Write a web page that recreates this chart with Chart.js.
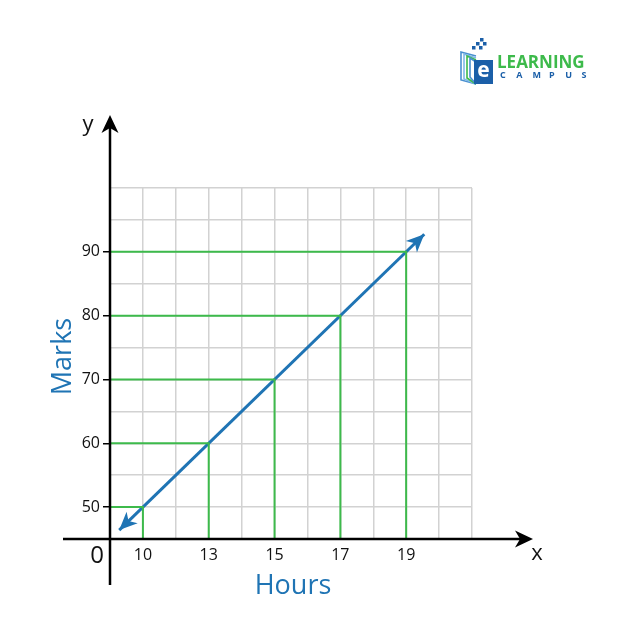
<!DOCTYPE html>
<html>
<head>
<meta charset="utf-8">
<script src="https://cdn.jsdelivr.net/npm/chart.js@4"></script>
<style>
  body { margin: 0; background: #fff; }
  #wrap { width: 640px; height: 631px; }
</style>
</head>
<body>
<div id="wrap"><canvas id="myChart" width="640" height="631"></canvas></div>
<script>
// data
const hourLabels = ['10', '13', '15', '17', '19'];
const marks = [50, 60, 70, 80, 90];
const markTicks = [50, 60, 70, 80, 90];

const blue = '#1f74b4';
const green = '#3dba4b';

// each hour sits on every second grid column (axis is not to scale)
function slotOf(i) { return i * 2 + 1; }

const points = marks.map((m, i) => ({ x: slotOf(i), y: m }));

// green guide lines from both axes to each point
const guideSets = points.map(p => ({
    data: [{ x: 0, y: p.y }, { x: p.x, y: p.y }, { x: p.x, y: 45 }],
    borderColor: green,
    borderWidth: 2,
    pointRadius: 0,
    fill: false
}));

// blue line, stretched a bit past first and last point
var first = points[0], last = points[points.length - 1];
var slope = (last.y - first.y) / (last.x - first.x);
var lineStart = { x: first.x - 0.72, y: first.y - 0.72 * slope };
var lineEnd = { x: last.x + 0.55, y: last.y + 0.55 * slope };

function arrowHead(ctx, x, y, ang, len, half, color) {
    ctx.save();
    ctx.translate(x, y);
    ctx.rotate(ang);
    ctx.fillStyle = color;
    ctx.beginPath();
    ctx.moveTo(0, 0);
    ctx.lineTo(-len, -half);
    ctx.lineTo(-len * 0.72, 0);
    ctx.lineTo(-len, half);
    ctx.closePath();
    ctx.fill();
    ctx.restore();
}

function drawLogo(ctx) {
    ctx.save();
    // pixel dots
    ctx.fillStyle = '#1b5fa8';
    [[480, 38], [476, 42], [483, 42], [472, 46], [479, 46]].forEach(function (s) {
        ctx.fillRect(s[0], s[1], 3.5, 3.5);
    });
    // book pages
    var cols = ['#4a90d0', '#7fb8e6', green, '#4a90d0'];
    ctx.lineWidth = 1.6;
    for (var k = 0; k < 4; k++) {
        ctx.strokeStyle = cols[k];
        ctx.beginPath();
        ctx.moveTo(476, 56 + k * 2);
        ctx.lineTo(461 + k * 3, 52 + k * 2);
        ctx.lineTo(461 + k * 3, 80 - k);
        ctx.lineTo(476, 84);
        ctx.stroke();
    }
    ctx.fillStyle = '#1b5fa8';
    ctx.fillRect(474, 60, 19, 24);
    ctx.fillStyle = '#fff';
    ctx.textAlign = 'center';
    ctx.textBaseline = 'middle';
    ctx.font = 'bold 21px "Open Sans"';
    ctx.fillText('e', 483.5, 71);
    // words
    ctx.fillStyle = green;
    ctx.textAlign = 'left';
    ctx.textBaseline = 'alphabetic';
    ctx.font = 'bold 17px "Open Sans"';
    ctx.fillText('LEARNING', 497, 68);
    ctx.fillStyle = '#1b5fa8';
    ctx.font = 'bold 9px "Open Sans"';
    var letters = 'CAMPUS';
    for (var j = 0; j < letters.length; j++) {
        ctx.fillText(letters[j], 500 + j * 16.3, 78);
    }
    ctx.restore();
}

const drawExtras = {
    id: 'drawExtras',
    afterDatasetsDraw(chart) {
        const ctx = chart.ctx;
        const a = chart.chartArea;
        const xs = chart.scales.x, ys = chart.scales.y;
        const ox = xs.getPixelForValue(0), oy = ys.getPixelForValue(45);
        ctx.save();

        // blue arrow heads
        var sx = xs.getPixelForValue(lineStart.x), sy = ys.getPixelForValue(lineStart.y);
        var ex = xs.getPixelForValue(lineEnd.x), ey = ys.getPixelForValue(lineEnd.y);
        var ang = Math.atan2(ey - sy, ex - sx);
        arrowHead(ctx, ex, ey, ang, 18, 8, blue);
        arrowHead(ctx, sx, sy, ang + Math.PI, 18, 8, blue);

        // black axes
        ctx.strokeStyle = '#000';
        ctx.lineWidth = 2.5;
        ctx.beginPath();
        ctx.moveTo(ox, oy + 46);
        ctx.lineTo(ox, a.top - 62);
        ctx.moveTo(ox - 47, oy);
        ctx.lineTo(a.right + 50, oy);
        ctx.stroke();
        arrowHead(ctx, ox, a.top - 73, -Math.PI / 2, 18, 8.5, '#000');
        arrowHead(ctx, a.right + 61, oy, 0, 18, 8.5, '#000');

        // axis letters and origin
        ctx.fillStyle = '#111';
        ctx.textAlign = 'center';
        ctx.textBaseline = 'middle';
        ctx.font = '22px "Open Sans"';
        ctx.fillText('y', ox - 22, a.top - 63);
        ctx.fillText('x', a.right + 65, oy + 15);
        ctx.font = '24px "Open Sans"';
        ctx.fillText('0', ox - 13, oy + 17);

        // axis titles
        ctx.fillStyle = blue;
        ctx.font = '27px "Open Sans"';
        ctx.fillText('Hours', (a.left + a.right) / 2 + 2, oy + 47);
        ctx.translate(ox - 47, (a.top + a.bottom) / 2 - 7);
        ctx.rotate(-Math.PI / 2);
        ctx.fillText('Marks', 0, 0);
        ctx.restore();

        drawLogo(ctx);
    }
};

document.addEventListener('DOMContentLoaded', function () {
    var ctx = document.getElementById('myChart').getContext('2d');
    var myChart = new Chart(ctx, {
        type: 'line',
        data: {
            datasets: guideSets.concat([{
                data: [lineStart, lineEnd],
                borderColor: blue,
                borderWidth: 3,
                pointRadius: 0,
                fill: false
            }])
        },
        options: {
            responsive: false,
            animation: false,
            layout: { padding: { top: 188, right: 168, left: 0, bottom: 0 } },
            plugins: { legend: { display: false }, tooltip: { enabled: false } },
            scales: {
                x: {
                    type: 'linear',
                    min: 0,
                    max: 11,
                    afterFit: function (s) { s.height = 92; },
                    border: { display: false },
                    grid: { color: '#d2d2d2', lineWidth: 1.5, drawTicks: false },
                    ticks: {
                        stepSize: 1,
                        autoSkip: false,
                        maxRotation: 0,
                        padding: 7,
                        color: '#111',
                        font: { family: 'Open Sans', size: 16 },
                        callback: function (v) {
                            var i = (v - 1) / 2;
                            return Number.isInteger(i) && hourLabels[i] ? hourLabels[i] : '';
                        }
                    }
                },
                y: {
                    min: 45,
                    max: 100,
                    afterFit: function (s) { s.width = 110; },
                    border: { display: false },
                    grid: {
                        color: '#d2d2d2',
                        lineWidth: 1.5,
                        tickLength: 7,
                        tickColor: function (c) {
                            return c.tick && markTicks.includes(c.tick.value) ? '#000' : 'rgba(0,0,0,0)';
                        }
                    },
                    ticks: {
                        stepSize: 5,
                        autoSkip: false,
                        padding: 3,
                        color: '#111',
                        font: { family: 'Open Sans', size: 16 },
                        callback: function (v) { return markTicks.includes(v) ? String(v) : ''; }
                    }
                }
            }
        },
        plugins: [drawExtras]
    });
});
</script>
</body>
</html>
